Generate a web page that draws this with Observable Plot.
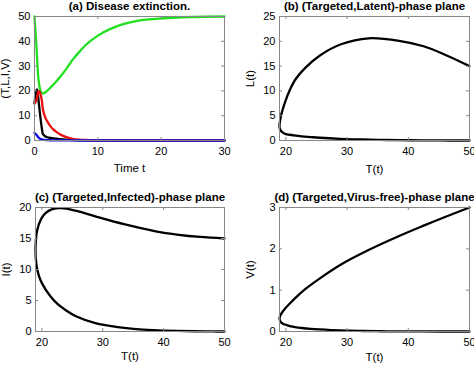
<!DOCTYPE html>
<html><head><meta charset="utf-8">
<script src="https://cdn.jsdelivr.net/npm/d3@7"></script>
<script src="https://cdn.jsdelivr.net/npm/@observablehq/plot@0.6"></script>
<style>
body{margin:0;background:#fff;}
#fig{display:grid;grid-template-columns:237px 237px;grid-template-rows:183px 183px;width:474px;height:366px;background:#fff;}
#fig svg{display:block;}
</style></head><body><div id="fig"></div>
<script>
// time samples and solution values
const time = [0, 0.1, 0.2, 0.3, 0.4, 0.5, 0.6, 0.7, 0.8, 0.9, 1.0, 1.15, 1.3, 1.5, 1.75, 2.0, 2.5, 3, 3.5, 4, 5, 6, 7, 8, 10, 12, 14, 16, 18, 20, 22, 25, 30];
const T = [50, 46, 42.5, 38.5, 33.5, 29, 25.5, 23.2, 21.6, 20.6, 19.9, 19.2, 18.95, 19.1, 19.5, 20, 21.3, 22.6, 24.0, 25.5, 28.8, 32.5, 35.5, 38.3, 42.3, 45, 46.9, 48.1, 48.8, 49.2, 49.5, 49.8, 50];
const L = [15, 17.3, 19.0, 20.1, 20.6, 19.4, 17.1, 14.7, 12.4, 10.1, 7.9, 5.0, 2.8, 2.1, 1.6, 1.3, 1.05, 0.85, 0.7, 0.55, 0.33, 0.2, 0.12, 0.08, 0.03, 0.01, 0.005, 0, 0, 0, 0, 0, 0];
const I = [15.0, 15.25, 15.6, 16.2, 17.3, 18.5, 19.5, 19.9, 19.7, 19.1, 18.2, 16.2, 13.0, 10.8, 9.0, 7.8, 5.8, 4.4, 3.4, 2.5, 1.35, 0.7, 0.38, 0.22, 0.09, 0.04, 0.02, 0.01, 0, 0, 0, 0, 0];
const V = [3.0, 2.77, 2.56, 2.31, 1.97, 1.62, 1.28, 1.03, 0.82, 0.67, 0.56, 0.42, 0.32, 0.24, 0.19, 0.16, 0.11, 0.085, 0.065, 0.05, 0.025, 0.012, 0.006, 0.003, 0.001, 0, 0, 0, 0, 0, 0, 0, 0];

const titles = ["(a) Disease extinction.", "(b) (Targeted,Latent)-phase plane", "(c) (Targeted,Infected)-phase plane", "(d) (Targeted,Virus-free)-phase plane"];
const xLabels = ["Time t", "T(t)", "T(t)", "T(t)"];
const yLabels = ["(T,L,I,V)", "L(t)", "I(t)", "V(t)"];
const ticksTime = [0, 10, 20, 30];
const ticksT = [20, 30, 40, 50];
const ticksA = [0, 10, 20, 30, 40, 50];
const ticksB = [0, 5, 10, 15, 20, 25];
const ticksC = [0, 5, 10, 15, 20];
const ticksD = [0, 1, 2, 3];

const idx = d3.range(time.length);
const W = 237, H = 183, FR = "#888";

function panel({xs, xdom, ydom, xticks, yticks, title, xlabel, ylabel, ml, mr, mt, mb, lines, curve, xdy}) {
  const iw = W - ml - mr, ih = H - mt - mb;
  const marks = [
    ...lines.map(([yv, color]) => Plot.line(idx, {x: i => xs[i], y: i => yv[i], stroke: color, strokeWidth: 2.3, curve})),
    Plot.frame({stroke: FR}),
    Plot.tickX(xticks, {x: d => d, insetTop: ih - 3, stroke: FR}),
    Plot.tickX(xticks, {x: d => d, insetBottom: ih - 3, stroke: FR}),
    Plot.tickY(yticks, {y: d => d, insetRight: iw - 3, stroke: FR}),
    Plot.tickY(yticks, {y: d => d, insetLeft: iw - 3, stroke: FR}),
    Plot.axisX({ticks: xticks, tickSize: 0, tickPadding: 7, label: null, tickFormat: d => String(d)}),
    Plot.axisY({ticks: yticks, tickSize: 0, tickPadding: 4, label: null, tickFormat: d => String(d)}),
    Plot.text([title], {text: d => d, frameAnchor: "top", lineAnchor: "middle", textAnchor: "middle", dy: -10.5, fontWeight: "bold", fontSize: 11.5}),
    Plot.text([xlabel], {text: d => d, frameAnchor: "bottom", lineAnchor: "middle", textAnchor: "middle", dy: xdy, fontSize: 11.5}),
    Plot.text([ylabel], {text: d => d, frameAnchor: "left", lineAnchor: "middle", textAnchor: "middle", dx: -29.5, rotate: -90, fontSize: 11.5})
  ];
  return Plot.plot({
    width: W, height: H,
    marginLeft: ml, marginRight: mr, marginTop: mt, marginBottom: mb,
    x: {domain: xdom}, y: {domain: ydom},
    style: {fontFamily: "'Liberation Sans', Arial, sans-serif", fontSize: "11px", background: "white"},
    marks
  });
}

const Tdom = d3.extent(T);
const fig = document.getElementById("fig");
fig.append(panel({xs: time, xdom: [0, 30], ydom: [0, 50], xticks: ticksTime, yticks: ticksA,
  title: titles[0], xlabel: xLabels[0], ylabel: yLabels[0], ml: 34, mr: 13, mt: 16, mb: 43, xdy: 28, curve: "monotone-x",
  lines: [[T, "#20e020"], [L, "#000"], [I, "#e81010"], [V, "#1010e0"]]}));
fig.append(panel({xs: T, xdom: Tdom, ydom: [0, 25], xticks: ticksT, yticks: ticksB,
  title: titles[1], xlabel: xLabels[1], ylabel: yLabels[1], ml: 42, mr: 5, mt: 16, mb: 43, xdy: 29, curve: "catmull-rom",
  lines: [[L, "#000"]]}));
fig.append(panel({xs: T, xdom: Tdom, ydom: [0, 20], xticks: ticksT, yticks: ticksC,
  title: titles[2], xlabel: xLabels[2], ylabel: yLabels[2], ml: 35, mr: 13, mt: 24, mb: 35, xdy: 25, curve: "catmull-rom",
  lines: [[I, "#000"]]}));
fig.append(panel({xs: T, xdom: Tdom, ydom: [0, 3], xticks: ticksT, yticks: ticksD,
  title: titles[3], xlabel: xLabels[3], ylabel: yLabels[3], ml: 42, mr: 5, mt: 24, mb: 35, xdy: 26, curve: "catmull-rom",
  lines: [[V, "#000"]]}));
</script></body></html>
